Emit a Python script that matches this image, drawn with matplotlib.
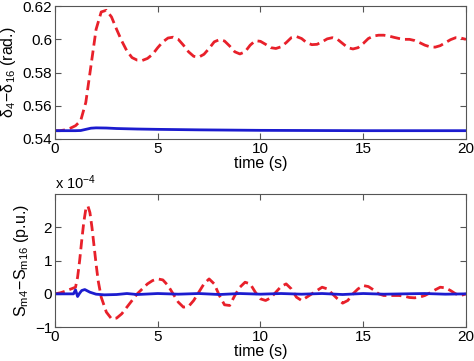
import numpy as np
from matplotlib import pyplot as plt

plt.rcParams['font.family'] = ['Liberation Sans', 'DejaVu Sans']
plt.rcParams['mathtext.fontset'] = 'custom'
plt.rcParams['mathtext.rm'] = 'Liberation Sans'
plt.rcParams['mathtext.it'] = 'Liberation Sans:italic'

# angle difference (rad.), red dashed sampled every 0.25 s
t_red = np.arange(0, 20.001, 0.25)
delta_red = [0.545, 0.545, 0.5455, 0.5465, 0.548, 0.551, 0.562, 0.584, 0.606, 0.6165,
             0.6175, 0.6135, 0.606, 0.599, 0.593, 0.589, 0.5875, 0.5873, 0.5885, 0.591,
             0.595, 0.5985, 0.6008, 0.6013, 0.600, 0.5965, 0.5925, 0.5898, 0.5893, 0.591,
             0.5945, 0.5985, 0.5998, 0.599, 0.596, 0.5925, 0.5912, 0.5925, 0.5965, 0.5992,
             0.5988, 0.597, 0.595, 0.5945, 0.5955, 0.598, 0.601, 0.6017, 0.6005, 0.598,
             0.5968, 0.597, 0.5985, 0.6003, 0.601, 0.600, 0.5975, 0.595, 0.5942, 0.595,
             0.5975, 0.6005, 0.602, 0.6025, 0.6025, 0.602, 0.6012, 0.6005, 0.600, 0.600,
             0.5993, 0.598, 0.5965, 0.5955, 0.5953, 0.5962, 0.598, 0.5998, 0.601, 0.6008,
             0.600]
t_blue = [0, 1.0, 1.25, 1.5, 1.75, 2.0, 2.5, 3, 4, 5, 7, 10, 15, 20]
delta_blue = [0.545, 0.545, 0.5451, 0.5458, 0.5465, 0.5467, 0.5466, 0.5463, 0.546, 0.5458,
              0.5455, 0.5452, 0.545, 0.545]

# speed difference (x 1e-4 p.u.)
t_sm_red = np.r_[[0, 0.25, 0.5, 0.75, 1.0, 1.1, 1.2, 1.3, 1.4, 1.5, 1.6, 1.7, 1.8, 1.9, 2.0, 2.1],
                 np.arange(2.25, 20.001, 0.25)]
sm_red = [0.0, 0.03, 0.08, 0.14, 0.2, 0.5, 1.0, 1.6, 2.15, 2.55, 2.65, 2.45, 2.0, 1.45, 0.9, 0.4,
          -0.1,
          -0.55, -0.75, -0.73, -0.6, -0.4, -0.2, 0.0, 0.15, 0.3, 0.4,
          0.45, 0.42, 0.25, 0.0, -0.25, -0.4, -0.38, -0.2, 0.05, 0.3,
          0.45, 0.3, -0.05, -0.33, -0.35, -0.05, 0.2, 0.35, 0.3, 0.05,
          -0.15, -0.2, -0.12, 0.05, 0.22, 0.3, 0.15, -0.1, -0.2, -0.1,
          0.0, 0.1, 0.2, 0.15, 0.0, -0.15, -0.28, -0.2, 0.0, 0.15,
          0.25, 0.22, 0.12, 0.0, -0.05, -0.05, -0.05, -0.05, -0.07, -0.11,
          -0.12, -0.1, -0.05, 0.03, 0.12, 0.2, 0.18, 0.1, 0.0, -0.05,
          0.0]
t_sm_blue = [0, 0.9, 1.0, 1.1, 1.2, 1.3, 1.45, 1.7, 2.0, 2.4, 3, 3.5, 4, 5, 6, 7, 8, 9, 10,
             11, 12, 13, 14, 15, 16, 17, 18, 19, 20]
sm_blue = [0.0, 0.0, 0.12, -0.08, 0.02, 0.1, 0.13, 0.05, -0.01, -0.03, -0.02, 0.01, -0.02,
           0.01, -0.01, 0.01, -0.02, 0.01, -0.01, 0.01, -0.01, 0.01, -0.02, 0.01, -0.01,
           0.0, 0.01, -0.01, 0.0]

red = '#e8202a'
blue = '#1c1ccf'

fig = plt.figure(figsize=(4.74, 3.61), dpi=100)
ax1 = fig.add_axes([0.116, 0.615, 0.867, 0.368])
ax2 = fig.add_axes([0.116, 0.094, 0.867, 0.368])

ax1.plot(t_red, delta_red, '--', color=red, lw=2, dashes=(3.6, 1.8))
ax1.plot(t_blue, delta_blue, '-', color=blue, lw=2)
ax1.set_xlim(0, 20)
ax1.set_ylim(0.54, 0.62)
ax1.set_yticks([0.54, 0.56, 0.58, 0.6, 0.62])
ax1.set_yticklabels(['0.54', '0.56', '0.58', '0.6', '0.62'])
ax1.set_ylabel(r'$\mathregular{\delta_4\!-\!\delta_{16}}$ (rad.)', fontsize=11.5, labelpad=3)

ax2.plot(t_sm_red, sm_red, '--', color=red, lw=2, dashes=(3.6, 1.8))
ax2.plot(t_sm_blue, sm_blue, '-', color=blue, lw=2)
ax2.set_xlim(0, 20)
ax2.set_ylim(-1, 3)
ax2.set_yticks([-1, 0, 1, 2])
ax2.set_ylabel(r'$\mathregular{S_{m4}\!-\!S_{m16}}$ (p.u.)', fontsize=11.5, labelpad=3)
ax2.text(0.0, 1.02, r'x 10$^{\mathregular{-4}}$', transform=ax2.transAxes, fontsize=10.5,
         va='bottom', ha='left')

for ax in (ax1, ax2):
    ax.set_xticks([0, 5, 10, 15, 20])
    ax.set_xlabel('time (s)', fontsize=11.5, labelpad=0)
    ax.tick_params(direction='in', top=True, right=True, labelsize=11, length=4, pad=2,
                   color='#555555')
    for s in ax.spines.values():
        s.set_color('#555555')

fig.savefig('out.png', dpi=100)
